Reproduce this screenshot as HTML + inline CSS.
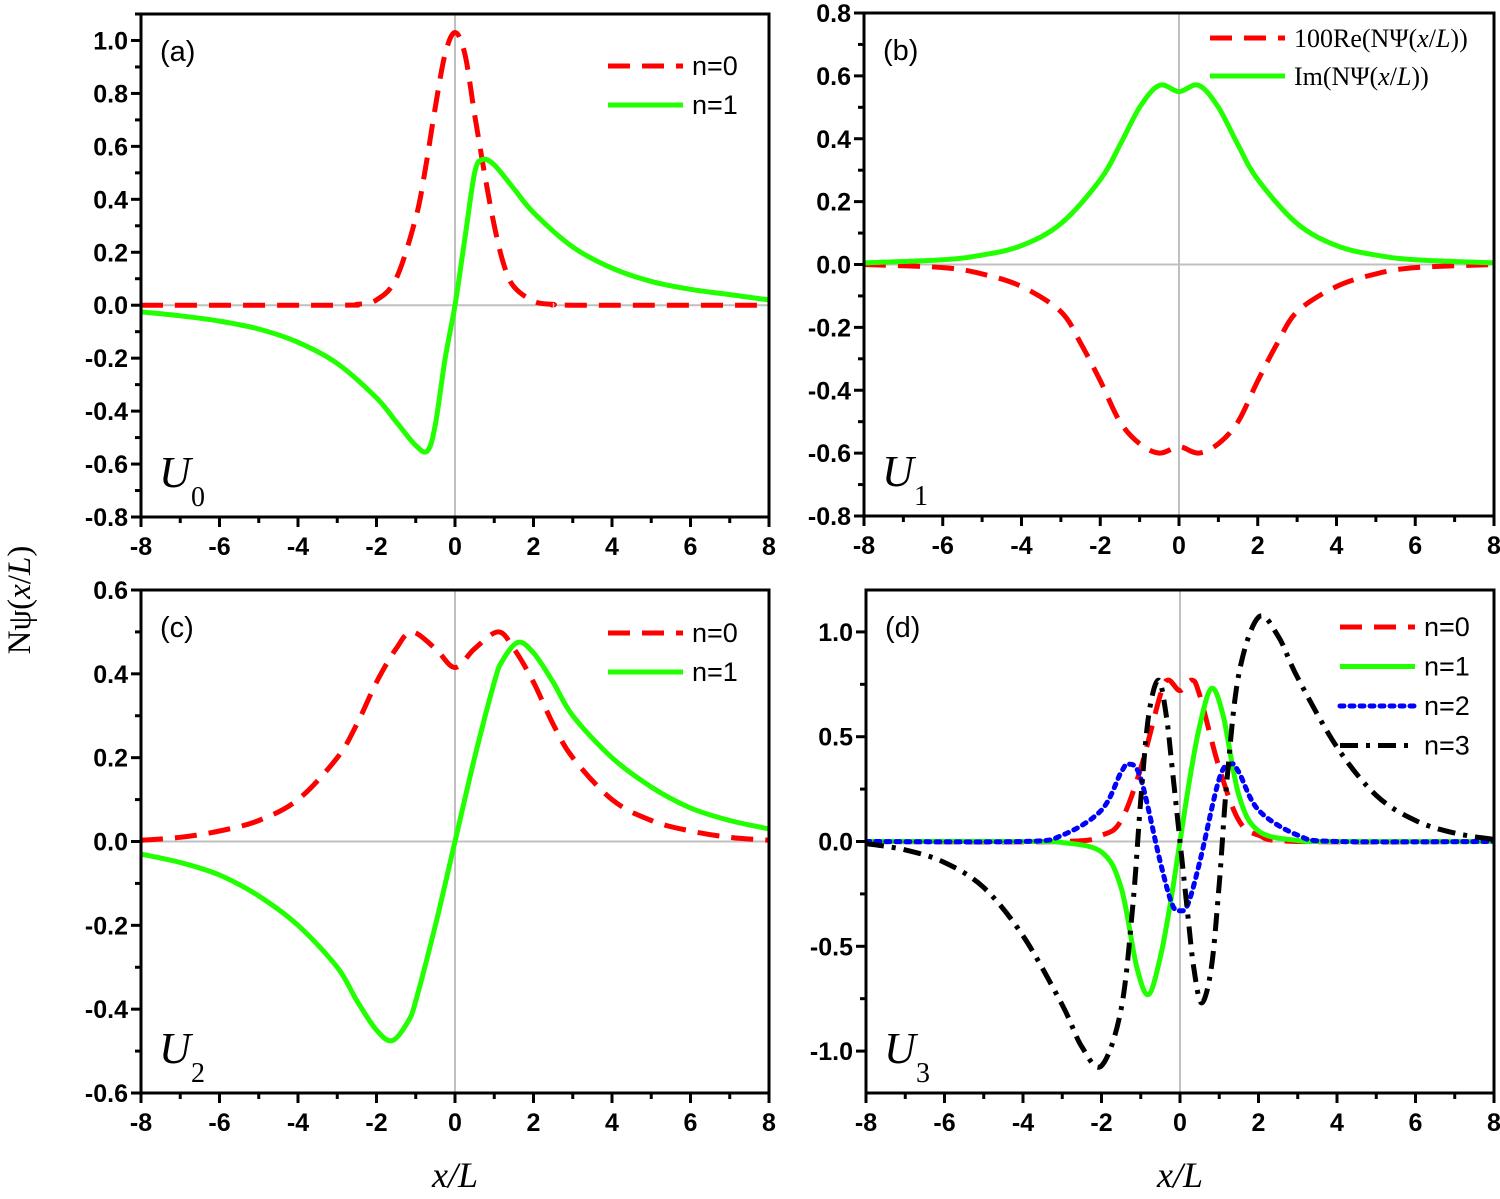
<!DOCTYPE html>
<html><head><meta charset="utf-8"><style>
body{margin:0;background:#fff;}
svg text{font-family:"Liberation Sans",sans-serif;}
.tk{font-weight:bold;font-size:25px;}
.ser{font-family:"Liberation Serif",serif !important;}
</style></head><body>
<svg id="fig" width="1500" height="1194" viewBox="0 0 1500 1194" xmlns="http://www.w3.org/2000/svg">
<text class="ser" transform="translate(30,600) rotate(-90)" text-anchor="middle" font-size="33">Nψ(<tspan font-style="italic">x</tspan>/<tspan font-style="italic">L</tspan>)</text>
<text class="ser" x="455" y="1187" text-anchor="middle" font-size="36" font-style="italic">x/L</text>
<text class="ser" x="1180" y="1187" text-anchor="middle" font-size="36" font-style="italic">x/L</text>
</svg>
<script>
// ---- data ----
const xTicks=[-8,-6,-4,-2,0,2,4,6,8];
const aX0=[-8,-3,-2.5,-2,-1.5,-1,-0.75,-0.5,-0.25,0,0.25,0.5,0.75,1,1.25,1.5,2,2.5,3,8];
const aY0=[0,0,0.003,0.02,0.1,0.33,0.52,0.75,0.95,1.03,0.95,0.72,0.5,0.3,0.15,0.07,0.015,0.003,0,0];
const aX1=[-8,-7,-6,-5,-4,-3,-2,-1.5,-1,-0.7,-0.5,-0.25,0,0.25,0.5,0.7,1,1.5,2,3,4,5,6,7,8];
const aY1=[-0.025,-0.04,-0.06,-0.09,-0.14,-0.22,-0.35,-0.44,-0.53,-0.55,-0.45,-0.2,0,0.25,0.5,0.55,0.53,0.44,0.35,0.22,0.14,0.09,0.06,0.04,0.02];
const bXr=[-8,-6,-5,-4,-3,-2.5,-2,-1.5,-1,-0.5,0,0.5,1,1.5,2,2.5,3,4,5,6,8];
const bYr=[0,-0.01,-0.03,-0.07,-0.15,-0.25,-0.37,-0.5,-0.57,-0.6,-0.58,-0.6,-0.57,-0.5,-0.37,-0.25,-0.15,-0.07,-0.03,-0.01,0];
const bXg=[-8,-6,-5,-4,-3,-2,-1.5,-1,-0.5,0,0.5,1,1.5,2,3,4,5,6,8];
const bYg=[0.005,0.015,0.03,0.06,0.13,0.27,0.38,0.5,0.57,0.55,0.57,0.5,0.38,0.27,0.13,0.06,0.03,0.015,0.005];
const cX0=[-8,-7,-6,-5,-4,-3,-2.5,-2,-1.5,-1.1,-0.5,0,0.5,1.1,1.5,2,2.5,3,4,5,6,7,8];
const cY0=[0.003,0.01,0.025,0.05,0.1,0.2,0.28,0.38,0.46,0.5,0.46,0.415,0.46,0.5,0.46,0.38,0.28,0.2,0.1,0.05,0.025,0.01,0.003];
const cX1=[-8,-7,-6,-5,-4,-3,-2.5,-2,-1.6,-1.2,-1,-0.5,0,0.5,1,1.2,1.6,2,2.5,3,4,5,6,7,8];
const cY1=[-0.03,-0.05,-0.08,-0.13,-0.2,-0.3,-0.38,-0.45,-0.475,-0.43,-0.38,-0.2,0,0.2,0.38,0.43,0.475,0.45,0.38,0.3,0.2,0.13,0.08,0.05,0.03];
const dX0=[-8,-3,-2,-1.5,-1,-0.5,-0.3,0,0.3,0.5,1,1.5,2,3,8];
const dY0=[0,0,0.03,0.1,0.35,0.7,0.77,0.72,0.77,0.7,0.35,0.1,0.03,0,0];
const dX1=[-8,-4,-3,-2,-1.5,-1.1,-0.8,-0.5,-0.25,0,0.25,0.5,0.8,1.1,1.5,2,3,4,8];
const dY1=[0,0,-0.005,-0.05,-0.22,-0.6,-0.73,-0.55,-0.3,0,0.3,0.55,0.73,0.6,0.22,0.05,0.005,0,0];
const dX2=[-8,-4,-3,-2,-1.5,-1.3,-1,-0.5,-0.2,0,0.2,0.5,1,1.3,1.5,2,3,4,8];
const dY2=[0,0,0.03,0.15,0.33,0.37,0.3,-0.1,-0.3,-0.33,-0.3,-0.1,0.3,0.37,0.33,0.15,0.03,0,0];
const dX3=[-8,-7,-6,-5,-4,-3,-2.5,-2,-1.5,-1.2,-1,-0.8,-0.55,-0.35,-0.2,0,0.2,0.35,0.55,0.8,1,1.2,1.5,2,2.5,3,4,5,6,7,8];
const dY3=[-0.01,-0.04,-0.1,-0.22,-0.45,-0.78,-0.98,-1.07,-0.8,-0.3,0.2,0.6,0.77,0.6,0.35,0,-0.35,-0.6,-0.77,-0.6,-0.2,0.3,0.8,1.07,0.98,0.78,0.45,0.22,0.1,0.04,0.01];
const aYT=[-0.8,-0.6,-0.4,-0.2,0,0.2,0.4,0.6,0.8,1.0];
const bYT=[-0.8,-0.6,-0.4,-0.2,0,0.2,0.4,0.6,0.8];
const cYT=[-0.6,-0.4,-0.2,0,0.2,0.4,0.6];
const dYT=[-1.0,-0.5,0,0.5,1.0];

const NS="http://www.w3.org/2000/svg";
const svg=document.getElementById('fig');
function mk(tag,attrs,parent){const e=document.createElementNS(NS,tag);for(const k in attrs)e.setAttribute(k,attrs[k]);(parent||svg).appendChild(e);return e;}
function pathD(xs,ys,sx,sy){
  const p=xs.map((x,i)=>[sx(x),sy(ys[i])]);
  let d='M'+p[0][0].toFixed(1)+','+p[0][1].toFixed(1);
  for(let i=0;i<p.length-1;i++){
    const p0=p[i-1]||p[i],p1=p[i],p2=p[i+1],p3=p[i+2]||p2;
    const c1=[p1[0]+(p2[0]-p0[0])/6,p1[1]+(p2[1]-p0[1])/6];
    const c2=[p2[0]-(p3[0]-p1[0])/6,p2[1]-(p3[1]-p1[1])/6];
    d+=' C'+c1[0].toFixed(1)+','+c1[1].toFixed(1)+' '+c2[0].toFixed(1)+','+c2[1].toFixed(1)+' '+p2[0].toFixed(1)+','+p2[1].toFixed(1);
  }
  return d;
}
const styles={red:{stroke:'#ff0000',dash:'22 12'},green:{stroke:'#22ff00',dash:''},blue:{stroke:'#0000ff',dash:'4 6'},black:{stroke:'#000',dash:'18 8 4 8'}};
function panel(o){
  const g=mk('g',{});
  
  
  const sx=x=>o.L+(x+8)/16*(o.R-o.L);
  const sy=y=>o.B-(y-o.ymin)/(o.ymax-o.ymin)*(o.B-o.T);
  const zl=mk('line',{x1:o.L,x2:o.R,y1:sy(0),y2:sy(0),stroke:'#c0c0c0','stroke-width':2},g);
  
  const zv=mk('line',{x1:sx(0),x2:sx(0),y1:o.T,y2:o.B,stroke:'#c0c0c0','stroke-width':2},g);
  
  const clip=mk('clipPath',{id:'c'+o.id},g);mk('rect',{x:o.L,y:o.T,width:o.R-o.L,height:o.B-o.T},clip);
  o.series.forEach(s=>{
    const st=styles[s.c];
    const p=mk('path',{d:pathD(s.x,s.y,sx,sy),fill:'none',stroke:st.stroke,'stroke-width':5,'stroke-dasharray':st.dash,'stroke-linecap':s.c==='blue'?'round':'butt','clip-path':'url(#c'+o.id+')'},g);
    
    
  });
  const fr=mk('rect',{x:o.L,y:o.T,width:o.R-o.L,height:o.B-o.T,fill:'none',stroke:'#000','stroke-width':3},g);
  
  xTicks.forEach(t=>{
    mk('line',{x1:sx(t),x2:sx(t),y1:o.B,y2:o.B+10,stroke:'#000','stroke-width':3},g);
    mk('line',{x1:sx(t+1),x2:sx(t+1),y1:o.B,y2:o.B+6,stroke:t<8?'#000':'none','stroke-width':3},g);
    const tl=mk('text',{x:sx(t),y:o.B+38,'text-anchor':'middle',class:'tk'},g);tl.textContent=t;
    
  });
  o.yt.forEach((t,i)=>{
    mk('line',{x1:o.L-10,x2:o.L,y1:sy(t),y2:sy(t),stroke:'#000','stroke-width':3},g);
    const tl=mk('text',{x:o.L-13,y:sy(t)+9,'text-anchor':'end',class:'tk'},g);tl.textContent=t.toFixed(1);
    
    const step=o.yt[1]-o.yt[0];
    if(i<o.yt.length-1||t+step/2<=o.ymax) mk('line',{x1:o.L-6,x2:o.L,y1:sy(t+step/2),y2:sy(t+step/2),stroke:'#000','stroke-width':3},g);
  });
  const pl=mk('text',{x:o.L+19,y:o.T+47,'font-size':29},g);pl.textContent='('+o.id+')';
  
  const u=mk('text',{x:o.L+18,y:o.B-30,'font-size':44,class:'ser','font-style':'italic'},g);u.textContent='U';
  
  const us=mk('text',{x:o.L+50,y:o.B-11,'font-size':28,class:'ser'},g);us.textContent=o.u;
  
  o.legend.forEach((l,i)=>{
    const st=styles[l.c],y=o.ly+i*o.lg;
    const ll=mk('line',{x1:o.lx,x2:o.lx+75,y1:y,y2:y,stroke:st.stroke,'stroke-width':5,'stroke-dasharray':st.dash,'stroke-linecap':l.c==='blue'?'round':'butt'},g);
    
    const lt=mk('text',{x:o.lx+84,y:y+9,'font-size':o.lf||27,class:o.serif?'ser':''},g);lt.innerHTML=l.t;
    
  });
}
panel({id:'a',L:141,R:769,T:14,B:517,ymin:-0.8,ymax:1.1,yt:aYT,u:'0',lx:608,ly:66,lg:39,
  series:[{name:'n0',c:'red',x:aX0,y:aY0},{name:'n1',c:'green',x:aX1,y:aY1}],
  legend:[{c:'red',t:'n=0'},{c:'green',t:'n=1'}]});
panel({id:'b',L:864,R:1494,T:13,B:516,ymin:-0.8,ymax:0.8,yt:bYT,u:'1',lx:1210,ly:38,lg:38,lf:26,serif:true,
  series:[{name:'re',c:'red',x:bXr,y:bYr},{name:'im',c:'green',x:bXg,y:bYg}],
  legend:[{c:'red',t:'100Re(NΨ(<tspan font-style="italic">x</tspan>/<tspan font-style="italic">L</tspan>))'},{c:'green',t:'Im(NΨ(<tspan font-style="italic">x</tspan>/<tspan font-style="italic">L</tspan>))'}]});
panel({id:'c',L:141,R:769,T:590,B:1093,ymin:-0.6,ymax:0.6,yt:cYT,u:'2',lx:608,ly:633,lg:39,
  series:[{name:'n0',c:'red',x:cX0,y:cY0},{name:'n1',c:'green',x:cX1,y:cY1}],
  legend:[{c:'red',t:'n=0'},{c:'green',t:'n=1'}]});
panel({id:'d',L:866,R:1494,T:590,B:1093,ymin:-1.2,ymax:1.2,yt:dYT,u:'3',lx:1340,ly:627,lg:39.5,
  series:[{name:'n0',c:'red',x:dX0,y:dY0},{name:'n1',c:'green',x:dX1,y:dY1},{name:'n2',c:'blue',x:dX2,y:dY2},{name:'n3',c:'black',x:dX3,y:dY3}],
  legend:[{c:'red',t:'n=0'},{c:'green',t:'n=1'},{c:'blue',t:'n=2'},{c:'black',t:'n=3'}]});
</script>
</body></html>
